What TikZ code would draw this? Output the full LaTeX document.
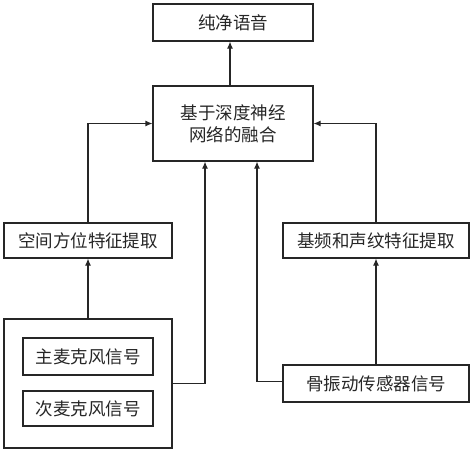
\documentclass[tikz,border=0pt]{standalone}
\usepackage{fontspec}
\setmainfont{Noto Sans CJK SC}
\usetikzlibrary{arrows.meta, positioning}

\begin{document}
\begin{tikzpicture}[x=1pt, y=1pt,
    every node/.style={rectangle, draw=black!85, line width=1.1pt, inner sep=0pt, text=black!85, font=\fontsize{17.5}{22}\selectfont},
    link/.style={draw=black!85, line width=1.1pt},
    arr/.style={link, -{Latex[length=7pt, width=6pt]}}]
        \useasboundingbox (0,0) rectangle (474,-453);
        %---------------- Top: output and fusion ----------------%
        \node[minimum width=160, minimum height=37] (pure) at (233,-22.5) {纯净语音};
        \node[minimum width=160, minimum height=75, align=center] (fuse) at (233,-123.5) {基于深度神经\\网络的融合};

        %---------------- Feature extraction ----------------%
        \node[minimum width=168, minimum height=35] (spat) at (88,-240.5) {空间方位特征提取};
        \node[minimum width=186, minimum height=35] (pitch) at (376,-240.5) {基频和声纹特征提取};

        %---------------- Sensor signals ----------------%
        \node[minimum width=168, minimum height=129] (mics) at (88,-383.5) {};
        \node[minimum width=130, minimum height=37] (mainmic) at (88,-356.5) {主麦克风信号};
        \node[minimum width=130, minimum height=35] (submic) at (88,-408.5) {次麦克风信号};
        \node[minimum width=186, minimum height=37] (bone) at (376,-383.5) {骨振动传感器信号};

        % 连线
        \draw[arr] ([xshift=-3]fuse.north) -- ([xshift=-3]pure.south);
        \draw[arr] (mics.north) -- (spat.south);
        \draw[arr] (spat.north) |- (fuse.west);
        \draw[arr] (bone.north) -- (pitch.south);
        \draw[arr] (pitch.north) |- (fuse.east);
        \draw[arr] (mics.east) -| ([xshift=-28]fuse.south);
        \draw[arr] ([yshift=2]bone.west) -| ([xshift=24]fuse.south);
    \end{tikzpicture}
\end{document}
